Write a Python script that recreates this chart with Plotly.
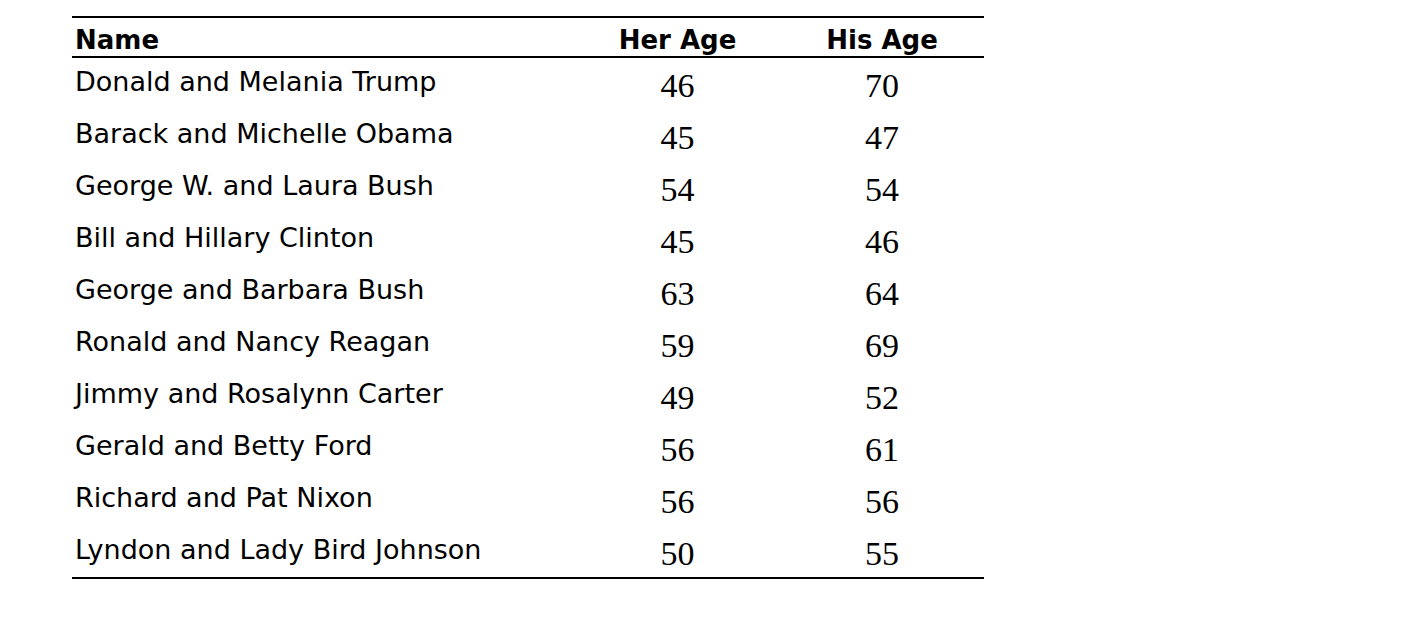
import plotly.graph_objects as go

names = ["Donald and Melania Trump", "Barack and Michelle Obama", "George W. and Laura Bush",
         "Bill and Hillary Clinton", "George and Barbara Bush", "Ronald and Nancy Reagan",
         "Jimmy and Rosalynn Carter", "Gerald and Betty Ford", "Richard and Pat Nixon",
         "Lyndon and Lady Bird Johnson"]
her_age = [46, 45, 54, 45, 63, 59, 49, 56, 56, 50]
his_age = [70, 47, 54, 46, 64, 69, 52, 61, 56, 55]
headers = ["<b>Name</b>", "<b>Her Age</b>", "<b>His Age</b>"]

W, H = 1416, 620
x0, x1 = 64, 976
ytop, yhead, ybot = 9, 49, 570

fig = go.Figure(go.Table(
    domain=dict(x=[59 / W, x1 / W], y=[0, 1 - ytop / H]),
    columnwidth=[508, 205, 204],
    header=dict(values=headers, height=40, align=["left", "center", "center"],
                fill_color="white", line=dict(color="white", width=0),
                font=dict(family="DejaVu Sans", size=26, color="black")),
    cells=dict(values=[names, her_age, his_age], height=52,
               align=["left", "center", "center"],
               fill_color="white", line=dict(color="white", width=0),
               font=dict(family=["DejaVu Sans", "Liberation Serif", "Liberation Serif"],
                         size=[27, 34, 34], color="black")),
))
for y in [ytop, yhead, ybot]:
    fig.add_shape(type="line", xref="paper", yref="paper", x0=x0 / W, x1=x1 / W,
                  y0=1 - y / H, y1=1 - y / H, line=dict(color="black", width=2))
fig.update_layout(width=W, height=H, margin=dict(l=0, r=0, t=0, b=0),
                  paper_bgcolor="white", plot_bgcolor="white")
fig.write_html("out.html")
